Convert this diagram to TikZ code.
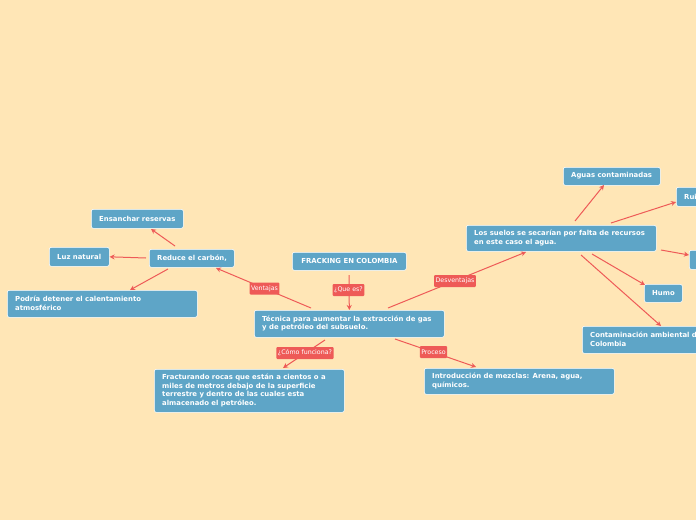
\documentclass[tikz,border=0pt]{standalone}
\usepackage{fontspec}
\setmainfont{DejaVu Sans}
\usetikzlibrary{arrows.meta}
\definecolor{bg}{HTML}{FFE6B6}
\definecolor{bx}{HTML}{5EA5C7}
\definecolor{lb}{HTML}{EE5A57}
\tikzset{
 box/.style={draw=white,line width=0.6pt,fill=bx,rounded corners=2pt,inner sep=0pt,anchor=north west},
 txt/.style={text=white,font=\bfseries\fontsize{6.9}{8.5}\selectfont,align=left,inner sep=0pt,anchor=west},
 lab/.style={fill=lb,text=white,font=\fontsize{6.3}{7}\selectfont,inner sep=1.5pt,rounded corners=1pt,minimum height=12pt},
 con/.style={draw=lb,line width=1pt,-{Stealth[length=5pt,width=5pt]}}
}
\newcommand{\bxn}[6]{\node[box,minimum width=#4-#2,minimum height=#5-#3] (#1) at (#2,#3) {};
\node[txt] (#1t) at (#2+8,{(#3+#5)/2}) {#6};}
\begin{document}
\begin{tikzpicture}[x=1pt,y=-1pt]
\fill[bg] (0,0) rectangle (696,520);
\clip (0,0) rectangle (696,520);
\bxn{ens}{91}{209}{183}{228}{Ensanchar reservas}
\bxn{luz}{49}{247}{109}{266}{Luz natural}
\bxn{red}{149}{249}{234}{267}{Reduce el carbón,}
\bxn{pod}{7}{290}{197}{317}{Podría detener el calentamiento\\atmosférico}
\bxn{fra}{292}{252}{406}{270}{\,FRACKING EN COLOMBIA}
\bxn{tec}{254}{310}{444}{337}{Técnica para aumentar la extracción de gas\\y de petróleo del subsuelo.}
\bxn{frc}{154}{369}{344}{412}{Fracturando rocas que están a cientos o a\\miles de metros debajo de la superficie\\terrestre y dentro de las cuales esta\\almacenado el petróleo.}
\bxn{int}{424}{368}{614}{394}{Introducción de mezclas: Arena, agua,\\químicos.}
\bxn{sue}{466}{225}{656}{251}{Los suelos se secarían por falta de recursos\\en este caso el agua.}
\bxn{agu}{563}{167}{660}{185}{Aguas contaminadas}
\bxn{rui}{676}{187}{760}{206}{Ruido}
\bxn{otr}{689}{250}{760}{269}{}
\bxn{hum}{644}{284}{682}{302}{Humo}
\bxn{con}{582}{326}{800}{353}{Contaminación ambiental de\\Colombia}
\coordinate (c1) at (311,308); \coordinate (c2) at (349,275);
\coordinate (c3) at (388,308); \coordinate (c4) at (325,340);
\coordinate (c5) at (395,339); \coordinate (c6) at (175,246);
\coordinate (c7) at (146,258); \coordinate (c8) at (168,269);
\coordinate (c9) at (575,221); \coordinate (c10) at (611,223);
\coordinate (c11) at (661,250); \coordinate (c12) at (592,254);
\coordinate (c13) at (581,255);
\draw[con] (c1) -- (216,268);
\draw[con] (c2) -- (tec.north);
\draw[con] (c3) -- (526,252);
\draw[con] (c4) -- (283,368);
\draw[con] (c5) -- (476,367);
\draw[con] (c6) -- (151,229);
\draw[con] (c7) -- (luz.east);
\draw[con] (c8) -- (130,290);
\draw[con] (c9) -- (604,185);
\draw[con] (c10) -- (676,202);
\draw[con] (c11) -- (689,255);
\draw[con] (c12) -- (645,285);
\draw[con] (c13) -- (661,326);
\node[lab] (l1) at (264.5,288.5) {Ventajas};
\node[lab] (l2) at (348.5,290) {¿Que es?};
\node[lab] (l3) at (455,281) {Desventajas};
\node[lab] (l4) at (305,353) {¿Cómo funciona?};
\node[lab] (l5) at (433.5,352) {Proceso};
\end{tikzpicture}
\end{document}
